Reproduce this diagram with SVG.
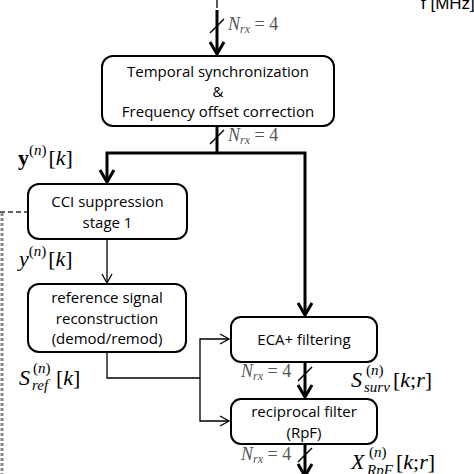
<svg xmlns="http://www.w3.org/2000/svg" width="474" height="474" viewBox="0 0 474 474">
<style>
.box{fill:#fff;stroke:#000;stroke-width:2}
.lbl{font-family:"Open Sans","Liberation Sans",sans-serif;font-size:15px;fill:#000;text-anchor:middle}
.thick{fill:none;stroke:#000;stroke-width:3}
.thin{fill:none;stroke:#000;stroke-width:1.3}
.slash{stroke:#000;stroke-width:1.5}
.math{font-family:"Liberation Serif","DejaVu Serif",serif;fill:#000}
.nrx{font-family:"Liberation Serif","DejaVu Serif",serif;fill:#555;font-size:18px}
.it{font-style:italic}
</style>
<defs>
<marker id="ah" markerUnits="userSpaceOnUse" markerWidth="20" markerHeight="20" refX="0" refY="0" viewBox="-14 -10 16 20" orient="auto" overflow="visible">
<path d="M-12,-7 L0,0 L-12,7" fill="none" stroke="#000" stroke-width="3"/>
</marker>
<marker id="at" markerUnits="userSpaceOnUse" markerWidth="14" markerHeight="14" refX="0" refY="0" viewBox="-10 -7 12 14" orient="auto" overflow="visible">
<path d="M-9,-5 L0,0 L-9,5" fill="none" stroke="#000" stroke-width="1.3"/>
</marker>
</defs>

<text x="421" y="9" font-family="Liberation Sans,sans-serif" font-size="17">f [MHz]</text>

<g id="connectors">
<line x1="217" y1="0" x2="217" y2="8" class="thin"/>
<line x1="217" y1="10" x2="217" y2="54" class="thick" marker-end="url(#ah)"/>
<line x1="210" y1="33" x2="224" y2="19" class="slash"/>
<polyline points="217,126 217,153" class="thick"/>
<line x1="210" y1="144" x2="224" y2="130" class="slash"/>
<polyline points="217,153 107,153 107,182" class="thick" marker-end="url(#ah)"/>
<polyline points="217,153 305,153 305,315" class="thick" marker-end="url(#ah)"/>
<line x1="107" y1="239" x2="107" y2="283" class="thin" marker-end="url(#at)"/>
<polyline points="107,352 107,378 200,378" class="thin"/>
<polyline points="200,378 200,339 229,339" class="thin" marker-end="url(#at)"/>
<polyline points="200,378 200,421 229,421" class="thin" marker-end="url(#at)"/>
<line x1="305" y1="362" x2="305" y2="397" class="thick" marker-end="url(#ah)"/>
<line x1="298" y1="381" x2="312" y2="367" class="slash"/>
<line x1="305" y1="444" x2="305" y2="476" class="thick" marker-end="url(#ah)"/>
<line x1="298" y1="462" x2="312" y2="448" class="slash"/>
<polyline points="0,212 28,212" fill="none" stroke="#333" stroke-width="1.5" stroke-dasharray="5,3"/>
<line x1="2" y1="213" x2="2" y2="474" stroke="#888" stroke-width="3" stroke-dasharray="3,2"/>
</g>

<g id="sync">
<rect x="102" y="56" width="232" height="70" rx="11" class="box"/>
<text x="218" y="77" class="lbl">Temporal synchronization</text>
<text x="218" y="97" class="lbl">&amp;</text>
<text x="218" y="117" class="lbl">Frequency offset correction</text>
</g>

<g id="cci">
<rect x="28" y="184" width="159" height="55" rx="11" class="box"/>
<text x="107.5" y="207" class="lbl">CCI suppression</text>
<text x="107.5" y="228" class="lbl">stage 1</text>
</g>

<g id="ref">
<rect x="28" y="284" width="158" height="68" rx="11" class="box"/>
<text x="107" y="303" class="lbl">reference signal</text>
<text x="107" y="324" class="lbl">reconstruction</text>
<text x="107" y="344" class="lbl">(demod/remod)</text>
</g>

<g id="eca">
<rect x="231" y="317" width="146" height="45" rx="10" class="box"/>
<text x="304" y="345" class="lbl">ECA+ filtering</text>
</g>

<g id="rpf">
<rect x="231" y="399" width="146" height="45" rx="10" class="box"/>
<text x="304" y="417" class="lbl">reciprocal filter</text>
<text x="304" y="438" class="lbl">(RpF)</text>
</g>

<g id="labels">
<text x="228" y="30" class="nrx"><tspan class="it">N</tspan><tspan font-size="12" class="it" dy="3">rx</tspan><tspan dy="-3"> = 4</tspan></text>
<text x="228" y="141" class="nrx"><tspan class="it">N</tspan><tspan font-size="12" class="it" dy="3">rx</tspan><tspan dy="-3"> = 4</tspan></text>
<text x="241" y="377" class="nrx"><tspan class="it">N</tspan><tspan font-size="12" class="it" dy="3">rx</tspan><tspan dy="-3"> = 4</tspan></text>
<text x="241" y="460" class="nrx"><tspan class="it">N</tspan><tspan font-size="12" class="it" dy="3">rx</tspan><tspan dy="-3"> = 4</tspan></text>

<text x="18" y="165" class="math" font-size="22"><tspan font-weight="bold">y</tspan><tspan font-size="15" dy="-10">(<tspan class="it">n</tspan>)</tspan><tspan dy="10" dx="2">[</tspan><tspan class="it">k</tspan>]</text>
<text x="19" y="266" class="math" font-size="22"><tspan class="it">y</tspan><tspan font-size="15" dy="-10">(<tspan class="it">n</tspan>)</tspan><tspan dy="10" dx="2">[</tspan><tspan class="it">k</tspan>]</text>

<text class="math" font-size="22"><tspan x="19" y="385" class="it">S</tspan><tspan x="33" y="373" font-size="15">(<tspan class="it">n</tspan>)</tspan><tspan x="32" y="390" font-size="15" class="it">ref</tspan><tspan x="56" y="385">[</tspan><tspan class="it">k</tspan>]</text>
<text class="math" font-size="22"><tspan x="351" y="387" class="it">S</tspan><tspan x="366" y="375" font-size="15">(<tspan class="it">n</tspan>)</tspan><tspan x="364" y="392" font-size="15" class="it">surv</tspan><tspan x="393" y="387">[</tspan><tspan class="it">k</tspan>;<tspan class="it">r</tspan>]</text>
<text class="math" font-size="22"><tspan x="351" y="469" class="it">X</tspan><tspan x="369" y="457" font-size="15">(<tspan class="it">n</tspan>)</tspan><tspan x="367" y="475" font-size="15" class="it">RpF</tspan><tspan x="396" y="469">[</tspan><tspan class="it">k</tspan>;<tspan class="it">r</tspan>]</text>
</g>
</svg>
